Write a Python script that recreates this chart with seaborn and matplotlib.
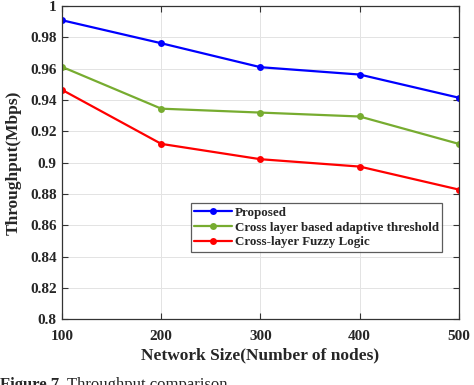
import matplotlib
matplotlib.use("Agg")
import matplotlib.pyplot as plt
import seaborn as sns
import pandas as pd

nodes = [100, 200, 300, 400, 500]
proposed = [0.991, 0.9763, 0.961, 0.9563, 0.9415]
adaptive = [0.9612, 0.9345, 0.932, 0.9295, 0.912]
fuzzy = [0.9465, 0.912, 0.9022, 0.8975, 0.8828]
series_names = ["Proposed", "Cross layer based adaptive threshold", "Cross-layer Fuzzy Logic"]
colors = ["#0000FF", "#77AC30", "#FF0000"]
yticks = [0.8, 0.82, 0.84, 0.86, 0.88, 0.9, 0.92, 0.94, 0.96, 0.98, 1.0]
ytick_labels = ["0.8", "0.82", "0.84", "0.86", "0.88", "0.9", "0.92", "0.94", "0.96", "0.98", "1"]

df = pd.DataFrame({
    "nodes": nodes * 3,
    "value": proposed + adaptive + fuzzy,
    "series": [series_names[0]] * 5 + [series_names[1]] * 5 + [series_names[2]] * 5,
})

sns.set_style("white")
plt.rcParams["font.family"] = ["Liberation Serif", "DejaVu Serif"]
plt.rcParams["font.weight"] = "bold"

fig = plt.figure(figsize=(4.74, 3.85), dpi=100)
ax = fig.add_axes([0.131, 0.171, 0.837, 0.813])

sns.lineplot(data=df, x="nodes", y="value", hue="series", palette=colors,
             hue_order=series_names, marker="o", markersize=5, markeredgewidth=0,
             linewidth=1.6, ax=ax, legend=True)

ax.set_xlim(100, 500)
ax.set_ylim(0.8, 1.0)
ax.set_xticks(nodes)
ax.set_xticklabels([str(n) for n in nodes], fontsize=11, fontweight="bold")
ax.set_yticks(yticks)
ax.set_yticklabels(ytick_labels, fontsize=11, fontweight="bold")
ax.grid(True, color="#e3e3e3", linewidth=0.7)
ax.tick_params(direction="in", length=4, color="#333333", top=True, right=True,
               bottom=True, left=True)
ax.tick_params(axis="x", pad=8)
ax.tick_params(axis="y", pad=4)
for s in ax.spines.values():
    s.set_color("#333333")
    s.set_linewidth(0.9)

ax.set_xlabel("Network Size(Number of nodes)", fontsize=12.5, fontweight="bold", labelpad=3)
ax.set_ylabel("Throughput(Mbps)", fontsize=12.5, fontweight="bold", labelpad=6)

leg = ax.legend(loc="upper left", bbox_to_anchor=(0.325, 0.37), frameon=True,
                fancybox=False, edgecolor="#333333",
                prop={"weight": "bold", "size": 9.4}, handlelength=2.9,
                handletextpad=0.2, borderpad=0.25, labelspacing=0.2,
                borderaxespad=0)
leg.get_frame().set_linewidth(0.9)

fig.text(0.0, 0.021, "Figure 7.", fontsize=12, fontweight="bold", va="top", ha="left")
fig.text(0.142, 0.021, "Throughput comparison", fontsize=12, fontweight="normal", va="top", ha="left")

fig.savefig("out.png", dpi=100)
